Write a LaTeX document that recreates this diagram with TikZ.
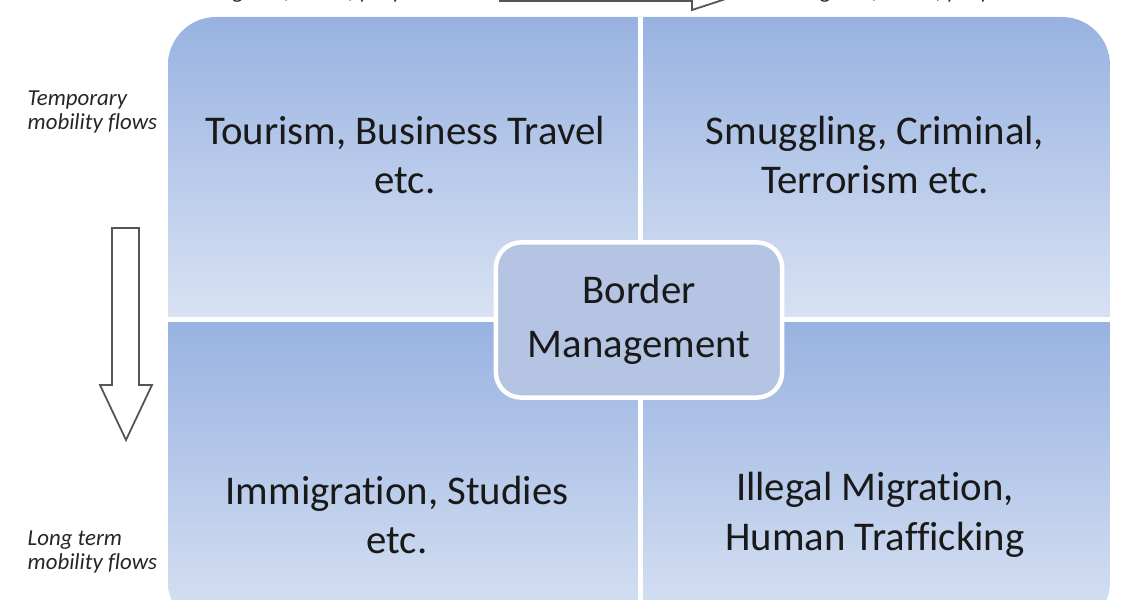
\documentclass[tikz,border=0pt]{standalone}
\usepackage{fontspec}
\setmainfont{Carlito}[Ligatures=NoCommon]
\begin{document}
\begin{tikzpicture}[x=0.01cm, y=0.01cm]

    \definecolor{quadtop}{RGB}{152,178,225}
    \definecolor{quadbottom}{RGB}{216,226,243}
    \definecolor{centrefill}{RGB}{180,196,226}
    \definecolor{arrowline}{RGB}{85,85,85}

    \tikzset{%
    every quadrant/.style={
        top color=quadtop,
        bottom color=quadbottom,
        draw=none
        },
    quadrant text/.style={
        align=center,
        text=black!90,
        font=\fontsize{11.6}{14.2}\selectfont
        },
    side text/.style={
        align=left,
        anchor=west,
        inner sep=0pt,
        text=black!85,
        font=\fontsize{6.5}{7.1}\selectfont\itshape
        },
    top text/.style={
        anchor=base,
        text=black!85,
        font=\fontsize{6.3}{7.1}\selectfont\itshape
        },
    block arrow/.style={
        draw=arrowline,
        fill=white,
        line width=0.018cm,
        line join=miter
        },
    }

    \useasboundingbox (0,0) rectangle (1139,600);

    % Four shaded quadrants inside one rounded block
    \begin{scope}
    \clip [rounded corners=0.48cm] (168,-30) rectangle (1110,583);
    \foreach \x/\w in {168/640,640/1110}
    {
    \shade [every quadrant/.try] (\x,280) rectangle (\w,583);
    \shade [every quadrant/.try] (\x,-30) rectangle (\w,280);
    }
    \end{scope}

    % White dividers
    \coordinate (split-top) at (640,583);
    \coordinate (split-bottom) at (640,-30);
    \coordinate (split-left) at (168,280);
    \coordinate (split-right) at (1110,280);
    \draw [white, line width=0.05cm] (split-top) -- (split-bottom);
    \draw [white, line width=0.05cm] (split-left) -- (split-right);

    % Quadrant labels
    \node [quadrant text] (tourism) at (405,445) {Tourism, Business Travel\\etc.};
    \node [quadrant text] (smuggling) at (875,445) {Smuggling, Criminal,\\Terrorism etc.};
    \node [quadrant text] (immigration) at (397,85) {Immigration, Studies\\etc.};
    \node [quadrant text] (illegal) at (875,85) {Illegal Migration,\\Human Trafficking};

    % Centre box
    \node [quadrant text, draw=white, line width=0.045cm, fill=centrefill,
           rounded corners=0.25cm, minimum width=2.86cm, minimum height=1.55cm,
           font=\fontsize{11.6}{15.2}\selectfont] (border) at (639,280) {Border\\Management};

    % Side labels
    \node [side text] (temporary) at (27,488) {Temporary\\mobility flows};
    \node [side text] (longterm) at (27,48) {Long term\\mobility flows};

    % Top labels (cut by the edge)
    \node [top text] (regular) at (316,601) {Regular flows of people};
    \node [top text] (irregular) at (899,601) {Irregular flows of people};

    % Block arrows
    \draw [block arrow] (112,372) -- (139,372) -- (139,215) -- (152,215)
        -- (126,160) -- (100,215) -- (112,215) -- cycle;
    \draw [block arrow] (500,599) -- (692,599) -- (692,590) -- (790,622)
        -- (692,654) -- (692,645) -- (500,645) -- cycle;

\end{tikzpicture}
\end{document}
